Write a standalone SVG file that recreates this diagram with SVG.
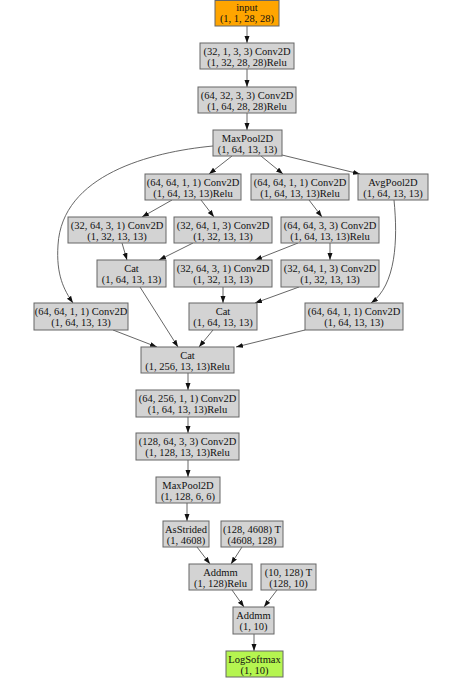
<svg xmlns="http://www.w3.org/2000/svg" width="474" height="679" viewBox="0 0 474 679">
<style>
.n rect{fill:#d3d3d3;stroke:#666;stroke-width:1}
.n text{font-family:"Liberation Serif","Times New Roman",serif;font-size:10.5px;fill:#111;text-anchor:middle}
#edges path{fill:none;stroke:#555;stroke-width:0.9}
</style>
<defs>
<marker id="a" markerUnits="userSpaceOnUse" markerWidth="8" markerHeight="6" refX="7" refY="2.5" orient="auto">
<path d="M0,0 L7,2.5 L0,5 z" fill="#111"/>
</marker>
</defs>
<rect width="474" height="679" fill="#fff"/>
<g id="edges" marker-end="url(#a)">
<path d="M247,26 L247,43" marker-end="url(#a)"/>
<path d="M247,69 L247,87" marker-end="url(#a)"/>
<path d="M247,113 L247,130" marker-end="url(#a)"/>
<path d="M232,156 L209,174" marker-end="url(#a)"/>
<path d="M261,156 L283,174" marker-end="url(#a)"/>
<path d="M282,155 L360,174" marker-end="url(#a)"/>
<path d="M213,146 C150,152 62,175 58,245 C56,275 64,290 73,303" marker-end="url(#a)"/>
<path d="M172,200 L142,217" marker-end="url(#a)"/>
<path d="M201,200 L214,217" marker-end="url(#a)"/>
<path d="M309,200 L322,217" marker-end="url(#a)"/>
<path d="M394,200 C398,240 396,285 371,303" marker-end="url(#a)"/>
<path d="M122,243 L127,260" marker-end="url(#a)"/>
<path d="M193,243 L159,260" marker-end="url(#a)"/>
<path d="M298,243 L255,260" marker-end="url(#a)"/>
<path d="M330,243 L330,260" marker-end="url(#a)"/>
<path d="M223,287 L223,303" marker-end="url(#a)"/>
<path d="M299,287 L255,303" marker-end="url(#a)"/>
<path d="M113,330 L157,347" marker-end="url(#a)"/>
<path d="M140,287 L178,347" marker-end="url(#a)"/>
<path d="M213,330 L199,347" marker-end="url(#a)"/>
<path d="M305,330 L236,347" marker-end="url(#a)"/>
<path d="M188,373 L188,390" marker-end="url(#a)"/>
<path d="M188,417 L188,433" marker-end="url(#a)"/>
<path d="M188,460 L188,477" marker-end="url(#a)"/>
<path d="M187,503 L187,521" marker-end="url(#a)"/>
<path d="M197,547 L210,564" marker-end="url(#a)"/>
<path d="M242,547 L231,564" marker-end="url(#a)"/>
<path d="M232,590 L244,607" marker-end="url(#a)"/>
<path d="M277,590 L264,607" marker-end="url(#a)"/>
<path d="M254,634 L254,651" marker-end="url(#a)"/>
</g>
<g id="input" class="n"><rect x="215" y="0.5" width="64" height="25.5" style="fill:#ffa500"/><text x="247" y="10.5">input</text><text x="247" y="22">(1, 1, 28, 28)</text></g>
<g id="conv1" class="n"><rect x="200" y="43" width="94" height="26"/><text x="247" y="54.5">(32, 1, 3, 3) Conv2D</text><text x="247" y="65.5">(1, 32, 28, 28)Relu</text></g>
<g id="conv2" class="n"><rect x="198" y="87" width="98" height="26"/><text x="247" y="98.5">(64, 32, 3, 3) Conv2D</text><text x="247" y="109.5">(1, 64, 28, 28)Relu</text></g>
<g id="maxpool1" class="n"><rect x="213" y="130" width="69" height="26"/><text x="247.5" y="141.5">MaxPool2D</text><text x="247.5" y="152.5">(1, 64, 13, 13)</text></g>
<g id="b1a" class="n"><rect x="145" y="174" width="96" height="26"/><text x="193" y="185.5">(64, 64, 1, 1) Conv2D</text><text x="193" y="196.5">(1, 64, 13, 13)Relu</text></g>
<g id="b2a" class="n"><rect x="251" y="174" width="98" height="26"/><text x="300" y="185.5">(64, 64, 1, 1) Conv2D</text><text x="300" y="196.5">(1, 64, 13, 13)Relu</text></g>
<g id="avgpool" class="n"><rect x="358" y="174" width="70" height="26"/><text x="393" y="185.5">AvgPool2D</text><text x="393" y="196.5">(1, 64, 13, 13)</text></g>
<g id="b1b" class="n"><rect x="68" y="217" width="98" height="26"/><text x="117" y="228.5">(32, 64, 3, 1) Conv2D</text><text x="117" y="239.5">(1, 32, 13, 13)</text></g>
<g id="b1c" class="n"><rect x="174" y="217" width="98" height="26"/><text x="223" y="228.5">(32, 64, 1, 3) Conv2D</text><text x="223" y="239.5">(1, 32, 13, 13)</text></g>
<g id="b2b" class="n"><rect x="281" y="217" width="98" height="26"/><text x="330" y="228.5">(64, 64, 3, 3) Conv2D</text><text x="330" y="239.5">(1, 64, 13, 13)Relu</text></g>
<g id="cat1" class="n"><rect x="97" y="260" width="69" height="27"/><text x="131.5" y="272">Cat</text><text x="131.5" y="283">(1, 64, 13, 13)</text></g>
<g id="b2c" class="n"><rect x="174" y="260" width="98" height="27"/><text x="223" y="272">(32, 64, 3, 1) Conv2D</text><text x="223" y="283">(1, 32, 13, 13)</text></g>
<g id="b2d" class="n"><rect x="281" y="260" width="98" height="27"/><text x="330" y="272">(32, 64, 1, 3) Conv2D</text><text x="330" y="283">(1, 32, 13, 13)</text></g>
<g id="b0" class="n"><rect x="34" y="303" width="94" height="27"/><text x="81" y="315">(64, 64, 1, 1) Conv2D</text><text x="81" y="326">(1, 64, 13, 13)</text></g>
<g id="cat2" class="n"><rect x="189" y="303" width="68" height="27"/><text x="223" y="315">Cat</text><text x="223" y="326">(1, 64, 13, 13)</text></g>
<g id="b3" class="n"><rect x="305" y="303" width="98" height="27"/><text x="354" y="315">(64, 64, 1, 1) Conv2D</text><text x="354" y="326">(1, 64, 13, 13)</text></g>
<g id="catall" class="n"><rect x="141" y="347" width="93" height="26"/><text x="187.5" y="358.5">Cat</text><text x="187.5" y="369.5">(1, 256, 13, 13)Relu</text></g>
<g id="conv3" class="n"><rect x="136" y="390" width="103" height="27"/><text x="187.5" y="402">(64, 256, 1, 1) Conv2D</text><text x="187.5" y="413">(1, 64, 13, 13)Relu</text></g>
<g id="conv4" class="n"><rect x="136" y="433" width="103" height="27"/><text x="187.5" y="445">(128, 64, 3, 3) Conv2D</text><text x="187.5" y="456">(1, 128, 13, 13)Relu</text></g>
<g id="maxpool2" class="n"><rect x="156" y="477" width="64" height="26"/><text x="188" y="488.5">MaxPool2D</text><text x="188" y="499.5">(1, 128, 6, 6)</text></g>
<g id="asstrided" class="n"><rect x="163" y="521" width="46" height="26"/><text x="186" y="532.5">AsStrided</text><text x="186" y="543.5">(1, 4608)</text></g>
<g id="t1" class="n"><rect x="221" y="521" width="62" height="26"/><text x="252" y="532.5">(128, 4608) T</text><text x="252" y="543.5">(4608, 128)</text></g>
<g id="addmm1" class="n"><rect x="189" y="564" width="63" height="26"/><text x="220.5" y="575.5">Addmm</text><text x="220.5" y="586.5">(1, 128)Relu</text></g>
<g id="t2" class="n"><rect x="261" y="564" width="55" height="26"/><text x="288.5" y="575.5">(10, 128) T</text><text x="288.5" y="586.5">(128, 10)</text></g>
<g id="addmm2" class="n"><rect x="233" y="607" width="41" height="27"/><text x="253.5" y="619">Addmm</text><text x="253.5" y="630">(1, 10)</text></g>
<g id="logsoftmax" class="n"><rect x="226" y="651" width="57" height="26" style="fill:#b5f550"/><text x="254.5" y="662.5">LogSoftmax</text><text x="254.5" y="673.5">(1, 10)</text></g>
</svg>
